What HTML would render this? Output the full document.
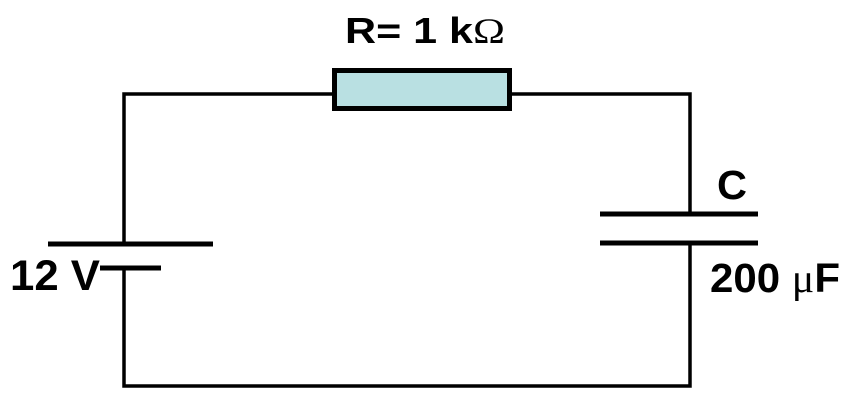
<!DOCTYPE html>
<html><head><style>
html,body{margin:0;padding:0;background:#fff;}
svg text{font-family:"Liberation Sans",Arial,sans-serif;font-weight:bold;fill:#000;}
</style></head><body>
<svg width="852" height="408" xmlns="http://www.w3.org/2000/svg">
<g stroke="#000" stroke-width="3.5" fill="none">
<polyline points="333,94 124,94 124,244"/>
<polyline points="124,268 124,386 690,386 690,243"/>
<polyline points="511,94 690,94 690,214"/>
</g>
<g stroke="#000" stroke-width="5">
<line x1="48" y1="244" x2="213" y2="244"/>
<line x1="100" y1="268" x2="161" y2="268"/>
<line x1="600" y1="214" x2="758" y2="214"/>
<line x1="600" y1="243" x2="758" y2="243"/>
</g>
<rect x="334.5" y="70.5" width="175" height="38" fill="#b9e0e2" stroke="#000" stroke-width="5"/>
<text x="345" y="43" font-size="36" textLength="160" lengthAdjust="spacingAndGlyphs">R= 1 k<tspan font-family="Liberation Serif,serif" font-weight="normal">Ω</tspan></text>
<text x="717" y="199" font-size="41" textLength="30" lengthAdjust="spacingAndGlyphs">C</text>
<text x="710" y="292" font-size="41" textLength="130" lengthAdjust="spacingAndGlyphs">200 <tspan font-family="Liberation Serif,serif" font-weight="normal">μ</tspan>F</text>
<text x="10" y="290" font-size="43" textLength="90" lengthAdjust="spacingAndGlyphs">12 V</text>
</svg>
</body></html>
